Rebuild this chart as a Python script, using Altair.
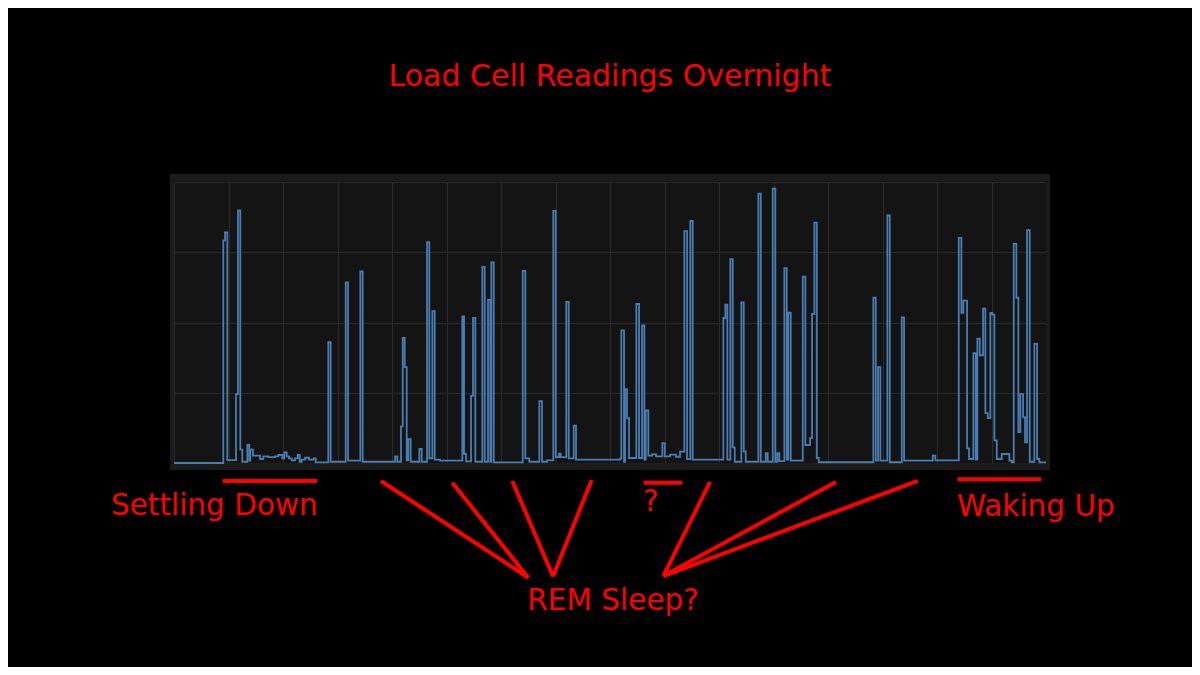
import altair as alt
import pandas as pd

# Load cell readings (minutes since start, reading units), step series
minutes = [0, 27.14, 28.08, 29.34, 34.13, 35.23, 36.50, 37.60, 40.35, 41.45,
           42.00, 43.49, 47.34, 49.16, 51.91, 55.60, 57.42, 59.62, 60.72, 62.04,
           63.31, 64.79, 66.61, 68.10, 69.20, 70.30, 72.12, 74.32, 76.90, 78.01,
           84.94, 86.26, 94.52, 95.79, 102.56, 103.88, 121.66, 122.93, 124.96, 125.90,
           127.00, 128.10, 128.98, 130.30, 135.04, 136.36, 139.28, 140.54, 142.19, 143.52,
           146.43, 158.71, 159.65, 160.75, 163.50, 164.60, 165.87, 169.72, 171.04, 172.86,
           174.12, 174.67, 176.00, 191.96, 193.39, 195.59, 201.10, 202.58, 205.34, 208.80,
           210.13, 211.94, 212.88, 215.96, 217.28, 220.03, 221.30, 245.52, 246.24, 247.73,
           248.28, 249.38, 250.48, 254.50, 255.98, 257.63, 258.90, 259.67, 261.10, 263.14,
           265.34, 268.81, 270.13, 273.05, 276.35, 278.55, 280.92, 282.41, 284.22, 285.54,
           302.39, 303.49, 304.59, 306.24, 307.56, 308.67, 312.30, 313.62, 314.72, 321.66,
           322.98, 325.73, 326.83, 329.58, 331.02, 332.12, 333.22, 335.97, 337.29, 338.17,
           339.49, 346.10, 347.53, 350.12, 351.22, 352.49, 353.81, 354.91, 384.96, 386.29,
           387.55, 388.82, 392.67, 393.99, 400.60, 401.87, 417.66, 419.10, 431.98, 433.41,
           434.51, 436.55, 437.65, 440.01, 441.34, 442.22, 443.54, 445.35, 446.62, 447.94,
           449.37, 450.47, 451.58, 452.90, 455.65, 459.83, 461.15, 462.25, 463.69, 464.79,
           465.89, 467.37, 468.48, 469.58, 471.06, 473.60, 475.08, 476.35, 480.0]
readings = [0, 31.68, 32.81, 0.40, 9.80, 35.94, 1.89, 0.18, 2.56, 0.33,
            1.89, 1.04, 0.57, 0.94, 0.85, 0.94, 1.14, 0.65, 1.51, 0.94,
            0.65, 0.37, 0.65, 1.14, 0.18, 0.47, 0.75, 0.47, 0.65, 0.09,
            17.19, 0.18, 25.71, 0.33, 27.27, 0.18, 0.94, 0.18, 5.20, 17.80,
            13.64, 0.37, 3.41, 0.18, 1.99, 0.18, 31.43, 0.65, 21.63, 0.47,
            0.33, 20.88, 1.32, 0.23, 9.56, 20.64, 0.18, 27.93, 0.18, 23.20,
            0.18, 28.55, 0.09, 27.36, 0.65, 0.18, 8.81, 0.18, 0.37, 35.88,
            0.85, 1.32, 0.85, 22.95, 0.65, 5.30, 0.47, 0.61, 18.89, 0.18,
            10.51, 6.39, 0.71, 22.63, 0.71, 19.60, 0.47, 7.47, 1.04, 1.22,
            0.94, 2.84, 0.94, 1.18, 0.89, 1.61, 33.00, 0.54, 34.46, 0.47,
            20.64, 22.53, 0.47, 29.02, 2.22, 0.18, 22.87, 1.65, 0.18, 38.35,
            0.18, 1.42, 0.18, 39.06, 0.18, 1.42, 0.26, 27.74, 0.47, 21.39,
            0.33, 26.51, 2.56, 3.55, 21.21, 34.23, 0.71, 0.11, 23.52, 0.33,
            13.64, 0.33, 35.23, 0.11, 20.74, 0.33, 1.04, 0.37, 32.05, 21.39,
            23.10, 2.07, 0.57, 15.63, 0.47, 17.70, 15.34, 21.96, 7.10, 6.39,
            21.35, 21.11, 3.21, 0.57, 1.28, 0.33, 0.09, 31.19, 23.52, 4.40,
            9.80, 6.53, 2.93, 33.14, 0.18, 16.95, 0.57, 0.09, 0.09]

# Annotation texts (anchored in data units)
title_text = ["Load Cell Readings Overnight"]
title_x = [240.0]
title_y = [53.7]

label_text = ["Settling Down", "?", "Waking Up", "REM Sleep?"]
label_x = [-34.7, 258.2, 431.0, 194.5]
label_y = [-7.4, -6.9, -7.6, -20.9]

# Annotation segments
seg_x1 = [26.81, 258.46, 431.21, 113.95, 153.20, 186.23, 229.94, 295.07, 364.43, 409.41]
seg_y1 = [-2.56, -2.80, -2.32, -2.56, -2.80, -2.56, -2.42, -2.70, -2.70, -2.56]
seg_x2 = [78.89, 279.82, 477.28, 195.04, 195.04, 208.64, 208.64, 269.36, 269.36, 269.36]
seg_y2 = [-2.56, -2.80, -2.32, -16.33, -16.33, -16.16, -16.16, -16.09, -16.09, -16.09]

# Panel frame strips
frame_x1 = [-2.2, -2.2, -2.2, 480.0]
frame_x2 = [482.2, 482.2, 0.0, 482.2]
frame_y1 = [40.05, -1.0, 0.0, 0.0]
frame_y2 = [41.14, -0.05, 40.05, 40.05]

xs = alt.Scale(domain=[0, 480], nice=False, zero=False)
ys = alt.Scale(domain=[0, 40], nice=False, zero=False)

line_df = pd.DataFrame({"minute": minutes, "reading": readings})
title_df = pd.DataFrame({"text": title_text, "x": title_x, "y": title_y})
label_df = pd.DataFrame({"text": label_text, "x": label_x, "y": label_y})
seg_df = pd.DataFrame({"x1": seg_x1, "y1": seg_y1, "x2": seg_x2, "y2": seg_y2})
frame_df = pd.DataFrame({"x1": frame_x1, "x2": frame_x2, "y1": frame_y1, "y2": frame_y2})

grid_x = alt.Axis(values=list(range(0, 481, 30)), labels=False, ticks=False, domain=False,
                  title=None, grid=True, gridColor="#2b2b2b", gridWidth=1)
grid_y = alt.Axis(values=list(range(0, 41, 10)), labels=False, ticks=False, domain=False,
                  title=None, grid=True, gridColor="#2b2b2b", gridWidth=1)

frame = alt.Chart(frame_df).mark_rect(color="#1b1b1b").encode(
    x=alt.X("x1:Q", scale=xs, axis=grid_x),
    x2="x2:Q",
    y=alt.Y("y1:Q", scale=ys, axis=grid_y),
    y2="y2:Q",
)

line = alt.Chart(line_df).mark_line(
    interpolate="step-after", color="#4a7db1", strokeWidth=1.8
).encode(
    x=alt.X("minute:Q", scale=xs, axis=grid_x),
    y=alt.Y("reading:Q", scale=ys, axis=grid_y),
)

segs = alt.Chart(seg_df).mark_rule(color="#ff0000", strokeWidth=4, strokeCap="butt").encode(
    x=alt.X("x1:Q", scale=xs),
    y=alt.Y("y1:Q", scale=ys),
    x2="x2:Q",
    y2="y2:Q",
)

title = alt.Chart(title_df).mark_text(
    font="DejaVu Sans", fontSize=30, color="#ff0000", align="center", baseline="alphabetic"
).encode(
    x=alt.X("x:Q", scale=xs),
    y=alt.Y("y:Q", scale=ys),
    text="text:N",
)

labels = alt.Chart(label_df).mark_text(
    font="DejaVu Sans", fontSize=29.5, color="#ff0000", align="left", baseline="alphabetic"
).encode(
    x=alt.X("x:Q", scale=xs),
    y=alt.Y("y:Q", scale=ys),
    text="text:N",
)

chart = alt.layer(frame, line, segs, title, labels).properties(
    width=872,
    height=281,
    padding={"left": 166, "top": 174, "right": 146, "bottom": 204},
    autosize=alt.AutoSizeParams(type="none"),
    background="#000000",
).configure_view(
    fill="#141414",
    strokeWidth=0,
)

chart.save("out.html", embed_options={"renderer": "svg", "actions": False})
